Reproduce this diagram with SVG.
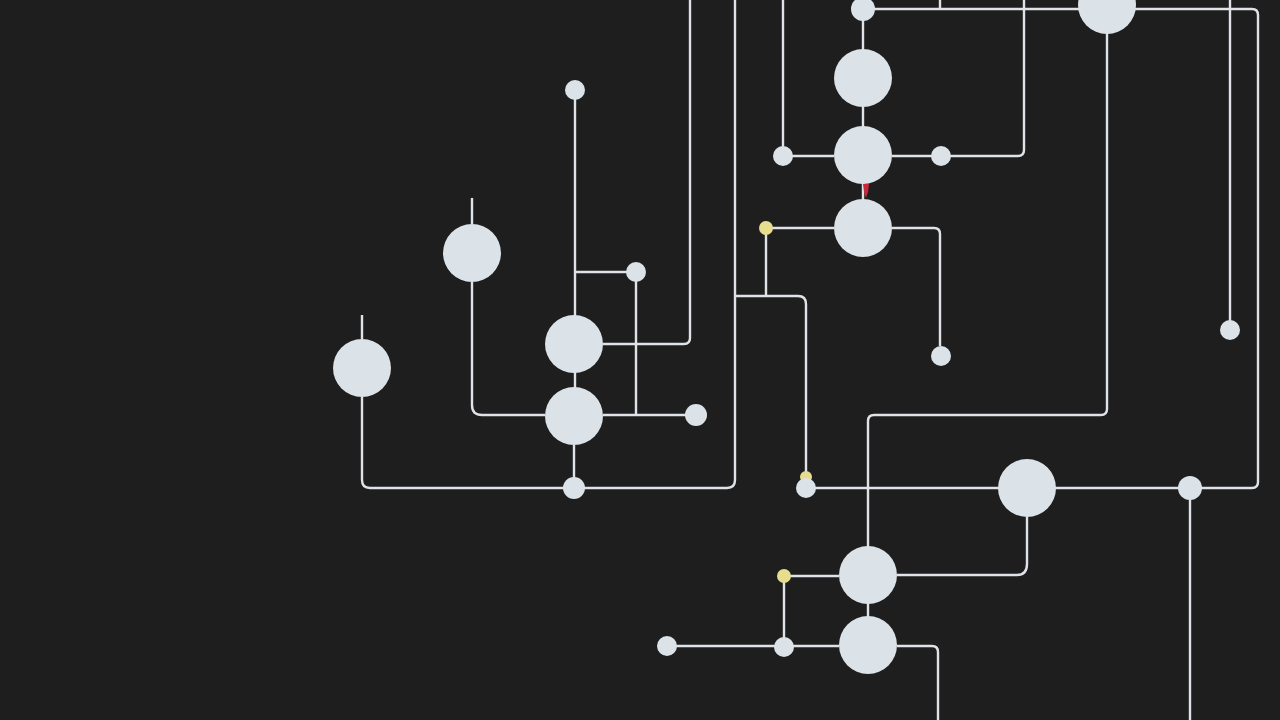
<svg xmlns="http://www.w3.org/2000/svg" width="1280" height="720" viewBox="0 0 1280 720">
<style>
.c{fill:none;stroke:#dfe3e7;stroke-width:2.4;stroke-linejoin:round}
.n{fill:#dce3e8}
.y{fill:#e6dd8e}
</style>
<rect width="1280" height="720" fill="#1e1e1e"/>
<g id="connectors">
<path class="c" d="M690,0 V338 Q690,344 684,344 H603"/>
<path class="c" d="M735,0 V480 Q735,488 727,488 H370 Q362,488 362,480 V397"/>
<path class="c" d="M362,339 V315"/>
<path class="c" d="M472,224 V198"/>
<path class="c" d="M472,282 V405 Q472,415 482,415 H545"/>
<path class="c" d="M735,296 H798 Q806,296 806,304 V475"/>
<path class="c" d="M766,228 V296"/>
<path class="c" d="M766,228 H834"/>
<path class="c" d="M892,228 H934 Q940,228 940,234 V346"/>
<path class="c" d="M783,0 V156"/>
<path class="c" d="M783,156 H834"/>
<path class="c" d="M892,156 H1018 Q1024,156 1024,150 V0"/>
<path class="c" d="M863,9 V228"/>
<path class="c" d="M863,9 H1252 Q1258,9 1258,15 V482 Q1258,488 1252,488 H806"/>
<path class="c" d="M940,0 V9"/>
<path class="c" d="M1230,0 V330"/>
<path class="c" d="M1107,5 V409 Q1107,415 1101,415 H874 Q868,415 868,421 V575"/>
<path class="c" d="M575,90 V416"/>
<path class="c" d="M575,272 H636 V415"/>
<path class="c" d="M603,415 H696"/>
<path class="c" d="M574,445 V488"/>
<path class="c" d="M1190,488 V720"/>
<path class="c" d="M1027,517 V564 Q1027,575 1017,575 H897"/>
<path class="c" d="M868,575 V645"/>
<path class="c" d="M784,576 H839"/>
<path class="c" d="M784,576 V647"/>
<path class="c" d="M667,646 H839"/>
<path class="c" d="M897,646 H932 Q938,646 938,652 V720"/>
<path d="M863,184 L869,184 L868,192 L866,198 L864,192 Z" fill="#c8283c"/>
</g>
<g id="n1"><circle class="n" cx="863" cy="9" r="12"/></g>
<g id="n2"><circle class="n" cx="863" cy="78" r="29"/></g>
<g id="n3"><circle class="n" cx="863" cy="155" r="29"/></g>
<g id="n4"><circle class="n" cx="783" cy="156" r="10"/></g>
<g id="n5"><circle class="n" cx="941" cy="156" r="10"/></g>
<g id="n6"><circle class="n" cx="863" cy="228" r="29"/></g>
<g id="n7"><circle class="y" cx="766" cy="228" r="7"/></g>
<g id="n8"><circle class="n" cx="1107" cy="5" r="29"/></g>
<g id="n9"><circle class="n" cx="1230" cy="330" r="10"/></g>
<g id="n10"><circle class="n" cx="941" cy="356" r="10"/></g>
<g id="n11"><circle class="n" cx="472" cy="253" r="29"/></g>
<g id="n12"><circle class="n" cx="362" cy="368" r="29"/></g>
<g id="n13"><circle class="n" cx="575" cy="90" r="10"/></g>
<g id="n14"><circle class="n" cx="636" cy="272" r="10"/></g>
<g id="n15"><circle class="n" cx="574" cy="344" r="29"/></g>
<g id="n16"><circle class="n" cx="574" cy="416" r="29"/></g>
<g id="n17"><circle class="n" cx="696" cy="415" r="11"/></g>
<g id="n18"><circle class="n" cx="574" cy="488" r="11"/></g>
<g id="n19"><circle class="y" cx="806" cy="477" r="6"/><circle class="n" cx="806" cy="488" r="10"/></g>
<g id="n20"><circle class="n" cx="1027" cy="488" r="29"/></g>
<g id="n21"><circle class="n" cx="1190" cy="488" r="12"/></g>
<g id="n22"><circle class="n" cx="868" cy="575" r="29"/></g>
<g id="n23"><circle class="y" cx="784" cy="576" r="7"/></g>
<g id="n24"><circle class="n" cx="868" cy="645" r="29"/></g>
<g id="n25"><circle class="n" cx="784" cy="647" r="10"/></g>
<g id="n26"><circle class="n" cx="667" cy="646" r="10"/></g>
</svg>
